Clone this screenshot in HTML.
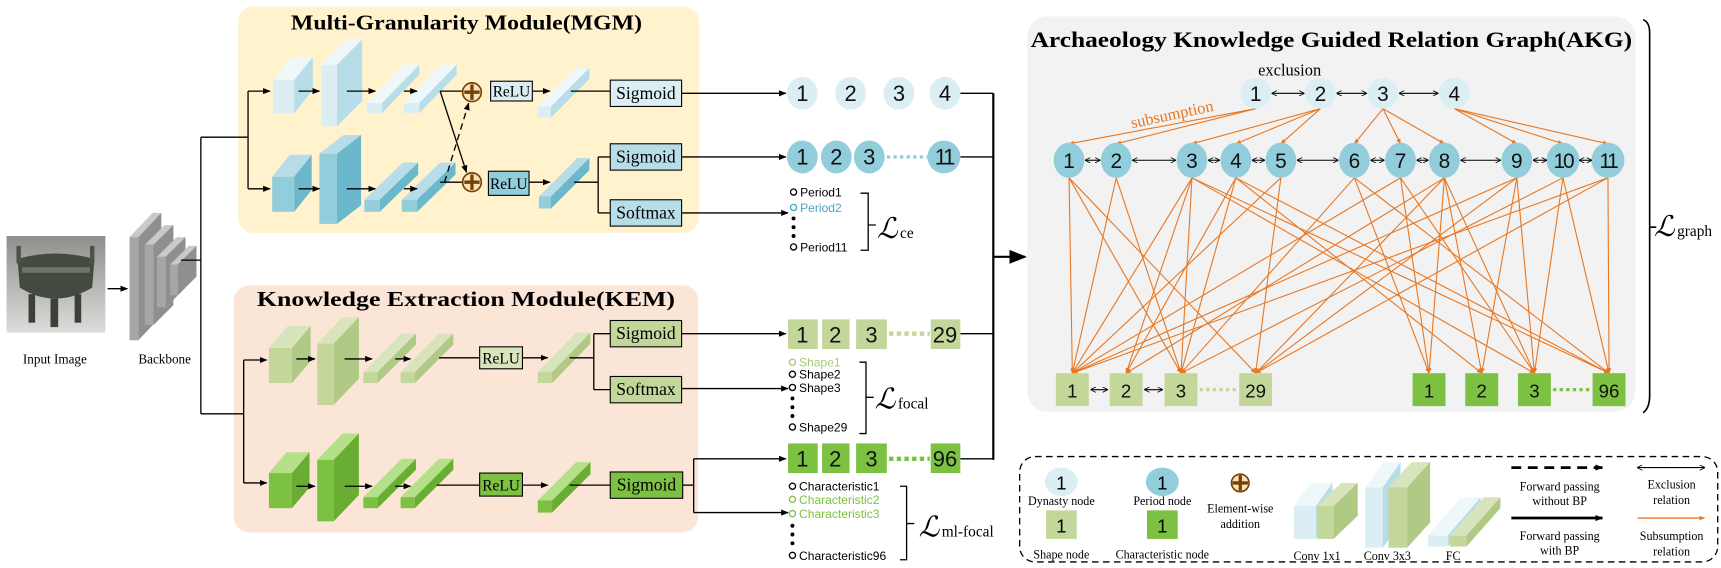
<!DOCTYPE html>
<html><head><meta charset="utf-8"><style>
html,body{margin:0;padding:0;background:#fff;}
svg{display:block;}
.sr{font-family:"Liberation Serif","DejaVu Serif",serif;}
.ss{font-family:"Liberation Sans","DejaVu Sans",sans-serif;}
.L{font-family:"DejaVu Serif",serif;font-style:italic;}
.gF{fill:#a6a6a6}.gT{fill:#c9c9c9}.gS{fill:#8f8f8f}
.aF{fill:#daeef3}.aT{fill:#eef8fb}.aS{fill:#b7dde8}
.bF{fill:#92cddc}.bT{fill:#b7dde8}.bS{fill:#6bb8cc}
.cF{fill:#c4d79b}.cT{fill:#d8e4bc}.cS{fill:#b0c985}
.dF{fill:#7dc142}.dT{fill:#b5e08a}.dS{fill:#6aad33}
</style></head><body>
<svg xmlns="http://www.w3.org/2000/svg" width="1721" height="568" viewBox="0 0 1568 517.5">
<defs>
<marker id="ab" viewBox="0 0 10 10" refX="9" refY="5" markerWidth="7" markerHeight="7" orient="auto-start-reverse" markerUnits="userSpaceOnUse"><path d="M0,1 L10,5 L0,9 z" fill="#000"/></marker>
<marker id="ah" viewBox="0 0 10 10" refX="9" refY="5" markerWidth="5" markerHeight="5" orient="auto-start-reverse" markerUnits="userSpaceOnUse"><path d="M0,0 L10,5 L0,10" fill="none" stroke="#000" stroke-width="1.5"/></marker>
<marker id="ao" viewBox="0 0 10 10" refX="9" refY="5" markerWidth="5" markerHeight="5" orient="auto" markerUnits="userSpaceOnUse"><path d="M0,1 L10,5 L0,9 z" fill="#e87722"/></marker>
<marker id="abig" viewBox="0 0 10 10" refX="9" refY="5" markerWidth="16" markerHeight="16" orient="auto" markerUnits="userSpaceOnUse"><path d="M0,1 L10,5 L0,9 z" fill="#000"/></marker>
<linearGradient id="img" x1="0" y1="0" x2="0" y2="1"><stop offset="0" stop-color="#8e908c"/><stop offset="1" stop-color="#dcdcda"/></linearGradient>
</defs>

<rect x="217" y="6" width="420" height="206" rx="14" fill="#fff2cc"/>
<rect x="213" y="260" width="423" height="225" rx="14" fill="#fbe5d6"/>
<rect x="936" y="15" width="554" height="360" rx="18" fill="#f2f2f2"/>
<rect x="929" y="416" width="636" height="96" rx="14" fill="none" stroke="#000" stroke-dasharray="6,4" stroke-width="1.2"/>

<!-- input image -->
<rect x="6" y="215" width="90" height="88" fill="url(#img)"/>
<path d="M16,236 Q50,226 86,236 L84,262 Q50,282 18,262 Z" fill="#454a40"/>
<rect x="15" y="224" width="4" height="16" fill="#4d5147"/><rect x="82" y="224" width="4" height="16" fill="#4d5147"/>
<rect x="26" y="268" width="6" height="26" fill="#3c4038"/><rect x="46" y="272" width="7" height="26" fill="#3c4038"/><rect x="68" y="268" width="6" height="26" fill="#3c4038"/>
<path d="M20,246 L82,246" stroke="#6e7466" stroke-width="5"/>
<text x="50" y="331" class="sr" font-size="12" text-anchor="middle">Input Image</text>
<text x="150" y="331" class="sr" font-size="12" text-anchor="middle">Backbone</text>

<!-- backbone plates -->
<path class="gT" d="M118,216 l21,-22 h8 l-21,22z"/><path class="gS" d="M126,216 l21,-22 v94 l-21,22z"/><rect class="gF" x="118" y="216" width="8" height="94"/>
<path class="gT" d="M132,223 l18,-18 h8 l-18,18z"/><path class="gS" d="M140,223 l18,-18 v73 l-18,18z"/><rect class="gF" x="132" y="223" width="8" height="73"/>
<path class="gT" d="M143,234 l18,-18 h8 l-18,18z"/><path class="gS" d="M151,234 l18,-18 v46 l-18,18z"/><rect class="gF" x="143" y="234" width="8" height="46"/>
<path class="gT" d="M155,241 l17,-17 h7 l-17,17z"/><path class="gS" d="M162,241 l17,-17 v28 l-17,17z"/><rect class="gF" x="155" y="241" width="7" height="28"/>

<!-- MGM top blocks -->
<path class="aT" d="M249,73 l17,-21 h19 l-17,21z"/><path class="aS" d="M268,73 l17,-21 v30 l-17,21z"/><rect class="aF" x="249" y="73" width="19" height="30"/>
<path class="aT" d="M293,59 l23,-23 h14 l-23,23z"/><path class="aS" d="M307,59 l23,-23 v56 l-23,23z"/><rect class="aF" x="293" y="59" width="14" height="56"/>
<path class="aT" d="M334,94 l34,-35 h14 l-34,35z"/><path class="aS" d="M348,94 l34,-35 v9 l-34,35z"/><rect class="aF" x="334" y="94" width="14" height="9"/>
<path class="aT" d="M368,94 l34,-35 h14 l-34,35z"/><path class="aS" d="M382,94 l34,-35 v9 l-34,35z"/><rect class="aF" x="368" y="94" width="14" height="9"/>
<path class="aT" d="M490,97 l35,-35 h12 l-35,35z"/><path class="aS" d="M502,97 l35,-35 v10 l-35,35z"/><rect class="aF" x="490" y="97" width="12" height="10"/>
<!-- MGM bottom -->
<path class="bT" d="M248,161 l16,-20 h20 l-16,20z"/><path class="bS" d="M268,161 l16,-20 v32 l-16,20z"/><rect class="bF" x="248" y="161" width="20" height="32"/>
<path class="bT" d="M291,140 l22,-17 h16 l-22,17z"/><path class="bS" d="M307,140 l22,-17 v64 l-22,17z"/><rect class="bF" x="291" y="140" width="16" height="64"/>
<path class="bT" d="M332,182 l35,-34 h14 l-35,34z"/><path class="bS" d="M346,182 l35,-34 v11 l-35,34z"/><rect class="bF" x="332" y="182" width="14" height="11"/>
<path class="bT" d="M366,182 l35,-34 h14 l-35,34z"/><path class="bS" d="M380,182 l35,-34 v11 l-35,34z"/><rect class="bF" x="366" y="182" width="14" height="11"/>
<path class="bT" d="M491,179 l35,-35 h11 l-35,35z"/><path class="bS" d="M502,179 l35,-35 v11 l-35,35z"/><rect class="bF" x="491" y="179" width="11" height="11"/>
<!-- KEM top -->
<path class="cT" d="M245,317 l17,-20 h21 l-17,20z"/><path class="cS" d="M266,317 l17,-20 v32 l-17,20z"/><rect class="cF" x="245" y="317" width="21" height="32"/>
<path class="cT" d="M289,313 l23,-24 h15 l-23,24z"/><path class="cS" d="M304,313 l23,-24 v56 l-23,24z"/><rect class="cF" x="289" y="313" width="15" height="56"/>
<path class="cT" d="M331,339 l35,-35 h13 l-35,35z"/><path class="cS" d="M344,339 l35,-35 v10 l-35,35z"/><rect class="cF" x="331" y="339" width="13" height="10"/>
<path class="cT" d="M365,339 l35,-35 h13 l-35,35z"/><path class="cS" d="M378,339 l35,-35 v10 l-35,35z"/><rect class="cF" x="365" y="339" width="13" height="10"/>
<path class="cT" d="M490,339 l35,-36 h13 l-35,36z"/><path class="cS" d="M503,339 l35,-36 v10 l-35,36z"/><rect class="cF" x="490" y="339" width="13" height="10"/>
<!-- KEM bottom -->
<path class="dT" d="M245,431 l16,-19 h21 l-16,19z"/><path class="dS" d="M266,431 l16,-19 v32 l-16,19z"/><rect class="dF" x="245" y="431" width="21" height="32"/>
<path class="dT" d="M289,419 l23,-24 h15 l-23,24z"/><path class="dS" d="M304,419 l23,-24 v56 l-23,24z"/><rect class="dF" x="289" y="419" width="15" height="56"/>
<path class="dT" d="M331,453 l35,-35 h13 l-35,35z"/><path class="dS" d="M344,453 l35,-35 v10 l-35,35z"/><rect class="dF" x="331" y="453" width="13" height="10"/>
<path class="dT" d="M365,453 l35,-35 h13 l-35,35z"/><path class="dS" d="M378,453 l35,-35 v10 l-35,35z"/><rect class="dF" x="365" y="453" width="13" height="10"/>
<path class="dT" d="M490,456 l35,-35 h13 l-35,35z"/><path class="dS" d="M503,456 l35,-35 v11 l-35,35z"/><rect class="dF" x="490" y="456" width="13" height="11"/>
<!-- legend blocks -->
<path class="aT" d="M1179,461 l15,-21 h20 l-15,21z"/><path class="aS" d="M1199,461 l15,-21 v30 l-15,21z"/><rect class="aF" x="1179" y="461" width="20" height="30"/>
<path class="cT" d="M1200,461 l22,-21 h15 l-22,21z"/><path class="cS" d="M1215,461 l22,-21 v30 l-22,21z"/><rect class="cF" x="1200" y="461" width="15" height="30"/>
<path class="aT" d="M1244,444 l16,-23 h16 l-16,23z"/><path class="aS" d="M1260,444 l16,-23 v55 l-16,23z"/><rect class="aF" x="1244" y="444" width="16" height="55"/>
<path class="cT" d="M1265,444 l21,-23 h17 l-21,23z"/><path class="cS" d="M1282,444 l21,-23 v55 l-21,23z"/><rect class="cF" x="1265" y="444" width="17" height="55"/>
<path class="aT" d="M1301,488 l30,-35 h18 l-30,35z"/><path class="aS" d="M1319,488 l30,-35 v10 l-30,35z"/><rect class="aF" x="1301" y="488" width="18" height="10"/>
<path class="cT" d="M1321,488 l31,-35 h15 l-31,35z"/><path class="cS" d="M1336,488 l31,-35 v10 l-31,35z"/><rect class="cF" x="1321" y="488" width="15" height="10"/>

<g stroke="#000" stroke-width="1.2" fill="none">
<line x1="98" y1="263" x2="116" y2="263" marker-end="url(#ab)"/>
<line x1="165" y1="237" x2="183" y2="237"/>
<line x1="183" y1="125" x2="183" y2="377"/>
<line x1="183" y1="125" x2="226" y2="125"/>
<line x1="226" y1="83" x2="226" y2="172"/>
<line x1="226" y1="83" x2="246" y2="83" marker-end="url(#ab)"/>
<line x1="226" y1="172" x2="246" y2="172" marker-end="url(#ab)"/>
<line x1="183" y1="377" x2="222" y2="377"/>
<line x1="222" y1="328" x2="222" y2="440"/>
<line x1="222" y1="328" x2="243" y2="328" marker-end="url(#ab)"/>
<line x1="222" y1="440" x2="243" y2="440" marker-end="url(#ab)"/>
<line x1="272" y1="83" x2="291" y2="83" marker-end="url(#ab)"/>
<line x1="316" y1="83" x2="342" y2="83" marker-end="url(#ab)"/>
<line x1="368" y1="83" x2="380" y2="83" marker-end="url(#ab)"/>
<line x1="401" y1="83" x2="421" y2="83"/>
<line x1="485" y1="83" x2="501" y2="83" marker-end="url(#ab)"/>
<line x1="520" y1="83" x2="556" y2="83"/>
<line x1="272" y1="172" x2="291" y2="172" marker-end="url(#ab)"/>
<line x1="316" y1="172" x2="342" y2="172" marker-end="url(#ab)"/>
<line x1="368" y1="172" x2="380" y2="172" marker-end="url(#ab)"/>
<line x1="401" y1="166" x2="421" y2="166"/>
<line x1="401" y1="83" x2="425" y2="157" marker-end="url(#ab)"/>
<line x1="405" y1="166" x2="427" y2="94" stroke-dasharray="6,4" marker-end="url(#ab)"/>
<line x1="482" y1="166" x2="501" y2="166" marker-end="url(#ab)"/>
<line x1="523" y1="166" x2="545" y2="166"/>
<line x1="545" y1="143" x2="545" y2="194"/>
<line x1="545" y1="143" x2="556" y2="143"/><line x1="545" y1="194" x2="556" y2="194"/>
<line x1="621" y1="85" x2="716" y2="85" marker-end="url(#ab)"/>
<line x1="621" y1="143" x2="716" y2="143" marker-end="url(#ab)"/>
<line x1="621" y1="194" x2="718" y2="194" marker-end="url(#ab)"/>
<line x1="270" y1="327" x2="287" y2="327" marker-end="url(#ab)"/>
<line x1="314" y1="327" x2="339" y2="327" marker-end="url(#ab)"/>
<line x1="360" y1="327" x2="374" y2="327" marker-end="url(#ab)"/>
<line x1="400" y1="326" x2="437" y2="326"/>
<line x1="476" y1="326" x2="499" y2="326" marker-end="url(#ab)"/>
<line x1="519" y1="326" x2="541" y2="326"/>
<line x1="541" y1="304" x2="541" y2="355"/>
<line x1="541" y1="304" x2="556" y2="304"/><line x1="541" y1="355" x2="556" y2="355"/>
<line x1="621" y1="304" x2="716" y2="304" marker-end="url(#ab)"/>
<line x1="621" y1="354" x2="718" y2="354" marker-end="url(#ab)"/>
<line x1="270" y1="443" x2="287" y2="443" marker-end="url(#ab)"/>
<line x1="314" y1="443" x2="339" y2="443" marker-end="url(#ab)"/>
<line x1="360" y1="443" x2="374" y2="443" marker-end="url(#ab)"/>
<line x1="398" y1="442" x2="437" y2="442"/>
<line x1="476" y1="442" x2="499" y2="442" marker-end="url(#ab)"/>
<line x1="519" y1="442" x2="556" y2="442"/>
<line x1="622" y1="442" x2="632" y2="442"/>
<line x1="632" y1="418" x2="632" y2="467"/>
<line x1="632" y1="418" x2="716" y2="418" marker-end="url(#ab)"/>
<line x1="632" y1="467" x2="718" y2="467" marker-end="url(#ab)"/>
<line x1="875" y1="85" x2="905" y2="85"/>
<line x1="875" y1="143" x2="905" y2="143"/>
<line x1="875" y1="304" x2="905" y2="304"/>
<line x1="875" y1="418" x2="905" y2="418"/>
<line x1="905" y1="85" x2="905" y2="419" stroke-width="2"/>
<line x1="905" y1="234" x2="934" y2="234" stroke-width="2" marker-end="url(#abig)"/>
<path d="M784,176 L791,176 L791,228 L784,228 M791,205 L798,205"/>
<path d="M783,330 L789,330 L789,395 L783,395 M789,362 L796,362"/>
<path d="M820,443 L826,443 L826,510 L820,510 M826,477 L833,477"/>
<path d="M1497,18 Q1503,20 1503,30 L1503,360 Q1503,372 1497,376 M1503,207 L1509,207" stroke-width="1.5"/>
</g>

<g stroke="#000" stroke-width="1">
<circle cx="430" cy="84" r="8.5" fill="#f6e3c0" stroke="#7b3f00" stroke-width="1.5"/>
<circle cx="430" cy="166" r="8.5" fill="#f6e3c0" stroke="#7b3f00" stroke-width="1.5"/>
<rect x="447" y="74" width="38" height="18" fill="#daeef3"/>
<rect x="445" y="156" width="37" height="22" fill="#92cddc"/>
<rect x="556" y="73" width="65" height="24" fill="#daeef3"/>
<rect x="556" y="131" width="65" height="24" fill="#b7dde8"/>
<rect x="556" y="182" width="65" height="24" fill="#b7dde8"/>
<rect x="437" y="316" width="39" height="20" fill="#d8e4bc"/>
<rect x="556" y="292" width="65" height="24" fill="#c4d79b"/>
<rect x="556" y="343" width="65" height="24" fill="#c4d79b"/>
<rect x="437" y="431" width="39" height="21" fill="#7dc142"/>
<rect x="556" y="430" width="66" height="24" fill="#7dc142"/>
</g>
<g stroke="#7b3f00" stroke-width="3"><path d="M430,77 V91 M423,84 H437"/><path d="M430,159 V173 M423,166 H437"/></g>
<g class="sr" font-size="14" text-anchor="middle">
<text x="466" y="88">ReLU</text><text x="463.5" y="172">ReLU</text>
<text x="588.5" y="90" font-size="16">Sigmoid</text><text x="588.5" y="148" font-size="16">Sigmoid</text><text x="588.5" y="199" font-size="16">Softmax</text>
<text x="456.5" y="331">ReLU</text><text x="456.5" y="447">ReLU</text>
<text x="588.5" y="309" font-size="16">Sigmoid</text><text x="588.5" y="360" font-size="16">Softmax</text><text x="589" y="447" font-size="16">Sigmoid</text>
</g>
<text x="265" y="27" class="sr" font-size="19" font-weight="bold" textLength="320" lengthAdjust="spacingAndGlyphs">Multi-Granularity Module(MGM)</text>
<text x="234" y="279" class="sr" font-size="19" font-weight="bold" textLength="381" lengthAdjust="spacingAndGlyphs">Knowledge Extraction Module(KEM)</text>

<g fill="#daeef3"><ellipse cx="731" cy="85" rx="14" ry="15"/><ellipse cx="775" cy="85" rx="14" ry="15"/><ellipse cx="819" cy="85" rx="14" ry="15"/><ellipse cx="861" cy="85" rx="14" ry="15"/></g>
<g fill="#92cddc"><ellipse cx="731" cy="143" rx="14" ry="15"/><ellipse cx="762" cy="143" rx="14" ry="15"/><ellipse cx="792" cy="143" rx="14" ry="15"/><ellipse cx="860" cy="143" rx="15" ry="15"/></g>
<line x1="808" y1="143" x2="845" y2="143" stroke="#92cddc" stroke-width="3" stroke-dasharray="3,3"/>
<g fill="#c4d79b"><rect x="718" y="291" width="27" height="27"/><rect x="749" y="291" width="25" height="27"/><rect x="780" y="291" width="28" height="27"/><rect x="848" y="291" width="27" height="27"/></g>
<line x1="810" y1="304" x2="847" y2="304" stroke="#c4d79b" stroke-width="4" stroke-dasharray="4,3"/>
<g fill="#7dc142"><rect x="718" y="404" width="27" height="27"/><rect x="749" y="404" width="25" height="27"/><rect x="780" y="404" width="28" height="27"/><rect x="848" y="404" width="27" height="27"/></g>
<line x1="810" y1="418" x2="847" y2="418" stroke="#7dc142" stroke-width="4" stroke-dasharray="4,3"/>
<g class="ss" font-size="20" text-anchor="middle" fill="#111">
<text x="731" y="92">1</text><text x="775" y="92">2</text><text x="819" y="92">3</text><text x="861" y="92">4</text>
<text x="731" y="150">1</text><text x="762" y="150">2</text><text x="792" y="150">3</text><text x="860" y="150" letter-spacing="-2">11</text>
<text x="731" y="312">1</text><text x="761" y="312">2</text><text x="794" y="312">3</text><text x="861" y="312">29</text>
<text x="731" y="425">1</text><text x="761" y="425">2</text><text x="794" y="425">3</text><text x="861" y="425">96</text>
</g>
<g fill="none" stroke-width="1.2">
<circle cx="723" cy="175" r="2.8" stroke="#000"/><circle cx="723" cy="189" r="2.8" stroke="#4aa3c3"/><circle cx="723" cy="225" r="2.8" stroke="#000"/>
<circle cx="722" cy="330" r="2.8" stroke="#a9c97a"/><circle cx="722" cy="341" r="2.8" stroke="#000"/><circle cx="722" cy="353" r="2.8" stroke="#000"/><circle cx="722" cy="389" r="2.8" stroke="#000"/>
<circle cx="722" cy="443" r="2.8" stroke="#000"/><circle cx="722" cy="455" r="2.8" stroke="#7dc142"/><circle cx="722" cy="468" r="2.8" stroke="#7dc142"/><circle cx="722" cy="506" r="2.8" stroke="#000"/>
</g>
<g fill="#000"><circle cx="723" cy="199" r="1.8"/><circle cx="723" cy="207" r="1.8"/><circle cx="723" cy="215" r="1.8"/>
<circle cx="722" cy="363" r="1.8"/><circle cx="722" cy="371" r="1.8"/><circle cx="722" cy="379" r="1.8"/>
<circle cx="722" cy="479" r="1.8"/><circle cx="722" cy="487" r="1.8"/><circle cx="722" cy="495" r="1.8"/></g>
<g class="ss" font-size="11">
<text x="729" y="179">Period1</text><text x="729" y="193" fill="#4aa3c3">Period2</text><text x="729" y="229">Period11</text>
<text x="728" y="334" fill="#a9c97a">Shape1</text><text x="728" y="345">Shape2</text><text x="728" y="357">Shape3</text><text x="728" y="393">Shape29</text>
<text x="728" y="447">Characteristic1</text><text x="728" y="459" fill="#7dc142">Characteristic2</text><text x="728" y="472" fill="#7dc142">Characteristic3</text><text x="728" y="510">Characteristic96</text>
</g>
<text x="799" y="217" class="L" font-size="26">ℒ</text><text x="820" y="217" class="sr" font-size="14">ce</text>
<text x="797" y="372" class="L" font-size="26">ℒ</text><text x="818" y="372" class="sr" font-size="14">focal</text>
<text x="837" y="489" class="L" font-size="26">ℒ</text><text x="858" y="489" class="sr" font-size="14">ml-focal</text>
<text x="1507" y="215" class="L" font-size="26">ℒ</text><text x="1528" y="215" class="sr" font-size="14">graph</text>

<!-- AKG -->
<text x="939" y="43" class="sr" font-size="20" font-weight="bold" textLength="548" lengthAdjust="spacingAndGlyphs">Archaeology Knowledge Guided Relation Graph(AKG)</text>
<text x="1175" y="69" class="sr" font-size="15" text-anchor="middle">exclusion</text>
<text x="1068" y="109" class="sr" font-size="15" fill="#e87722" text-anchor="middle" transform="rotate(-12 1068 105)">subsumption</text>
<g stroke="#e87722" stroke-width="1" marker-end="url(#ao)">
<line x1="1144" y1="99" x2="974" y2="131"/><line x1="1144" y1="99" x2="1017" y2="131"/>
<line x1="1203" y1="99" x2="1086" y2="131"/><line x1="1203" y1="99" x2="1126" y2="131"/><line x1="1203" y1="99" x2="1167" y2="131"/>
<line x1="1260" y1="99" x2="1234" y2="131"/><line x1="1260" y1="99" x2="1276" y2="131"/><line x1="1260" y1="99" x2="1316" y2="131"/>
<line x1="1325" y1="99" x2="1382" y2="131"/><line x1="1325" y1="99" x2="1424" y2="131"/><line x1="1325" y1="99" x2="1465" y2="131"/>
<line x1="974" y1="162" x2="977" y2="340"/><line x1="974" y1="162" x2="1076" y2="340"/><line x1="974" y1="162" x2="1144" y2="340"/>
<line x1="1017" y1="162" x2="977" y2="340"/><line x1="1017" y1="162" x2="1076" y2="340"/>
<line x1="1086" y1="162" x2="977" y2="340"/><line x1="1086" y1="162" x2="1026" y2="340"/><line x1="1086" y1="162" x2="1076" y2="340"/><line x1="1086" y1="162" x2="1398" y2="340"/><line x1="1086" y1="162" x2="1466" y2="340"/>
<line x1="1126" y1="162" x2="1026" y2="340"/><line x1="1126" y1="162" x2="1076" y2="340"/><line x1="1126" y1="162" x2="1350" y2="340"/><line x1="1126" y1="162" x2="1466" y2="340"/>
<line x1="1167" y1="162" x2="1144" y2="340"/><line x1="1167" y1="162" x2="977" y2="340"/>
<line x1="1234" y1="162" x2="1076" y2="340"/><line x1="1234" y1="162" x2="1302" y2="340"/><line x1="1234" y1="162" x2="1466" y2="340"/>
<line x1="1276" y1="162" x2="977" y2="340"/><line x1="1276" y1="162" x2="1302" y2="340"/><line x1="1276" y1="162" x2="1398" y2="340"/>
<line x1="1316" y1="162" x2="1026" y2="340"/><line x1="1316" y1="162" x2="1144" y2="340"/><line x1="1316" y1="162" x2="1302" y2="340"/><line x1="1316" y1="162" x2="1350" y2="340"/><line x1="1316" y1="162" x2="1398" y2="340"/>
<line x1="1382" y1="162" x2="977" y2="340"/><line x1="1382" y1="162" x2="1144" y2="340"/><line x1="1382" y1="162" x2="1350" y2="340"/><line x1="1382" y1="162" x2="1398" y2="340"/>
<line x1="1424" y1="162" x2="1076" y2="340"/><line x1="1424" y1="162" x2="1398" y2="340"/><line x1="1424" y1="162" x2="1466" y2="340"/>
<line x1="1465" y1="162" x2="1144" y2="340"/><line x1="1465" y1="162" x2="1466" y2="340"/><line x1="1465" y1="162" x2="977" y2="340"/>
</g>
<g fill="#daeef3"><ellipse cx="1144" cy="85" rx="14" ry="14"/><ellipse cx="1203" cy="85" rx="14" ry="14"/><ellipse cx="1260" cy="85" rx="14" ry="14"/><ellipse cx="1325" cy="85" rx="14" ry="14"/></g>
<g fill="#92cddc">
<ellipse cx="974" cy="146" rx="14" ry="16"/><ellipse cx="1017" cy="146" rx="14" ry="16"/><ellipse cx="1086" cy="146" rx="14" ry="16"/><ellipse cx="1126" cy="146" rx="14" ry="16"/><ellipse cx="1167" cy="146" rx="14" ry="16"/><ellipse cx="1234" cy="146" rx="14" ry="16"/><ellipse cx="1276" cy="146" rx="14" ry="16"/><ellipse cx="1316" cy="146" rx="14" ry="16"/><ellipse cx="1382" cy="146" rx="14" ry="16"/><ellipse cx="1424" cy="146" rx="15" ry="16"/><ellipse cx="1465" cy="146" rx="15" ry="16"/>
</g>
<g fill="#c4d79b"><rect x="962" y="340" width="30" height="30"/><rect x="1011" y="340" width="30" height="30"/><rect x="1061" y="340" width="30" height="30"/><rect x="1129" y="340" width="30" height="30"/></g>
<g fill="#7dc142"><rect x="1287" y="340" width="30" height="30"/><rect x="1335" y="340" width="30" height="30"/><rect x="1383" y="340" width="30" height="30"/><rect x="1451" y="340" width="30" height="30"/></g>
<line x1="1093" y1="355" x2="1127" y2="355" stroke="#c4d79b" stroke-width="3" stroke-dasharray="3,3"/>
<line x1="1415" y1="355" x2="1449" y2="355" stroke="#7dc142" stroke-width="3" stroke-dasharray="3,3"/>
<g stroke="#000" stroke-width="1" fill="none" marker-start="url(#ah)" marker-end="url(#ah)">
<line x1="1159" y1="85" x2="1188" y2="85"/><line x1="1218" y1="85" x2="1245" y2="85"/><line x1="1275" y1="85" x2="1310" y2="85"/>
<line x1="994" y1="355" x2="1009" y2="355"/><line x1="1043" y1="355" x2="1059" y2="355"/>
<line x1="989" y1="146" x2="1002" y2="146"/><line x1="1032" y1="146" x2="1071" y2="146"/><line x1="1101" y1="146" x2="1111" y2="146"/><line x1="1141" y1="146" x2="1152" y2="146"/><line x1="1182" y1="146" x2="1219" y2="146"/><line x1="1249" y1="146" x2="1261" y2="146"/><line x1="1291" y1="146" x2="1301" y2="146"/><line x1="1331" y1="146" x2="1367" y2="146"/><line x1="1397" y1="146" x2="1409" y2="146"/><line x1="1439" y1="146" x2="1450" y2="146"/>
</g>
<g class="ss" font-size="19" text-anchor="middle" fill="#111">
<text x="1144" y="92">1</text><text x="1203" y="92">2</text><text x="1260" y="92">3</text><text x="1325" y="92">4</text>
<text x="974" y="153">1</text><text x="1017" y="153">2</text><text x="1086" y="153">3</text><text x="1126" y="153">4</text><text x="1167" y="153">5</text><text x="1234" y="153">6</text><text x="1276" y="153">7</text><text x="1316" y="153">8</text><text x="1382" y="153">9</text><text x="1424" y="153" letter-spacing="-2">10</text><text x="1465" y="153" letter-spacing="-2">11</text>
<text x="977" y="362" font-size="17">1</text><text x="1026" y="362" font-size="17">2</text><text x="1076" y="362" font-size="17">3</text><text x="1144" y="362" font-size="17">29</text>
<text x="1302" y="362" font-size="17">1</text><text x="1350" y="362" font-size="17">2</text><text x="1398" y="362" font-size="17">3</text><text x="1466" y="362" font-size="17">96</text>
</g>

<!-- legend -->
<ellipse cx="967" cy="439" rx="15" ry="13" fill="#daeef3"/>
<ellipse cx="1059" cy="439" rx="15" ry="13" fill="#92cddc"/>
<rect x="953" y="465" width="28" height="26" fill="#c4d79b"/>
<rect x="1045" y="465" width="28" height="26" fill="#7dc142"/>
<circle cx="1130" cy="440" r="8" fill="#f6e3c0" stroke="#7b3f00" stroke-width="1.5"/>
<path d="M1130,433 V447 M1123,440 H1137" stroke="#7b3f00" stroke-width="3"/>
<g class="ss" font-size="17" text-anchor="middle"><text x="967" y="446">1</text><text x="1059" y="446">1</text><text x="967" y="485">1</text><text x="1059" y="485">1</text></g>
<g class="sr" font-size="11" text-anchor="middle">
<text x="967" y="460">Dynasty node</text><text x="1059" y="460">Period node</text>
<text x="967" y="509">Shape node</text><text x="1059" y="509">Characteristic node</text>
<text x="1130" y="467">Element-wise</text><text x="1130" y="481">addition</text>
<text x="1200" y="510">Conv 1x1</text><text x="1264" y="510">Conv 3x3</text><text x="1324" y="510">FC</text>
<text x="1421" y="447">Forward passing</text><text x="1421" y="460">without BP</text>
<text x="1421" y="492">Forward passing</text><text x="1421" y="505">with BP</text>
<text x="1523" y="445">Exclusion</text><text x="1523" y="459">relation</text>
<text x="1523" y="492">Subsumption</text><text x="1523" y="506">relation</text>
</g>
<line x1="1377" y1="426" x2="1460" y2="426" stroke="#000" stroke-width="2.5" stroke-dasharray="9,6" marker-end="url(#ab)"/>
<line x1="1377" y1="472" x2="1460" y2="472" stroke="#000" stroke-width="2.5" marker-end="url(#ab)"/>
<line x1="1492" y1="426" x2="1553" y2="426" stroke="#000" stroke-width="1" marker-start="url(#ah)" marker-end="url(#ah)"/>
<line x1="1492" y1="472" x2="1553" y2="472" stroke="#e87722" stroke-width="1.2" marker-end="url(#ao)"/>
</svg>
</body></html>
